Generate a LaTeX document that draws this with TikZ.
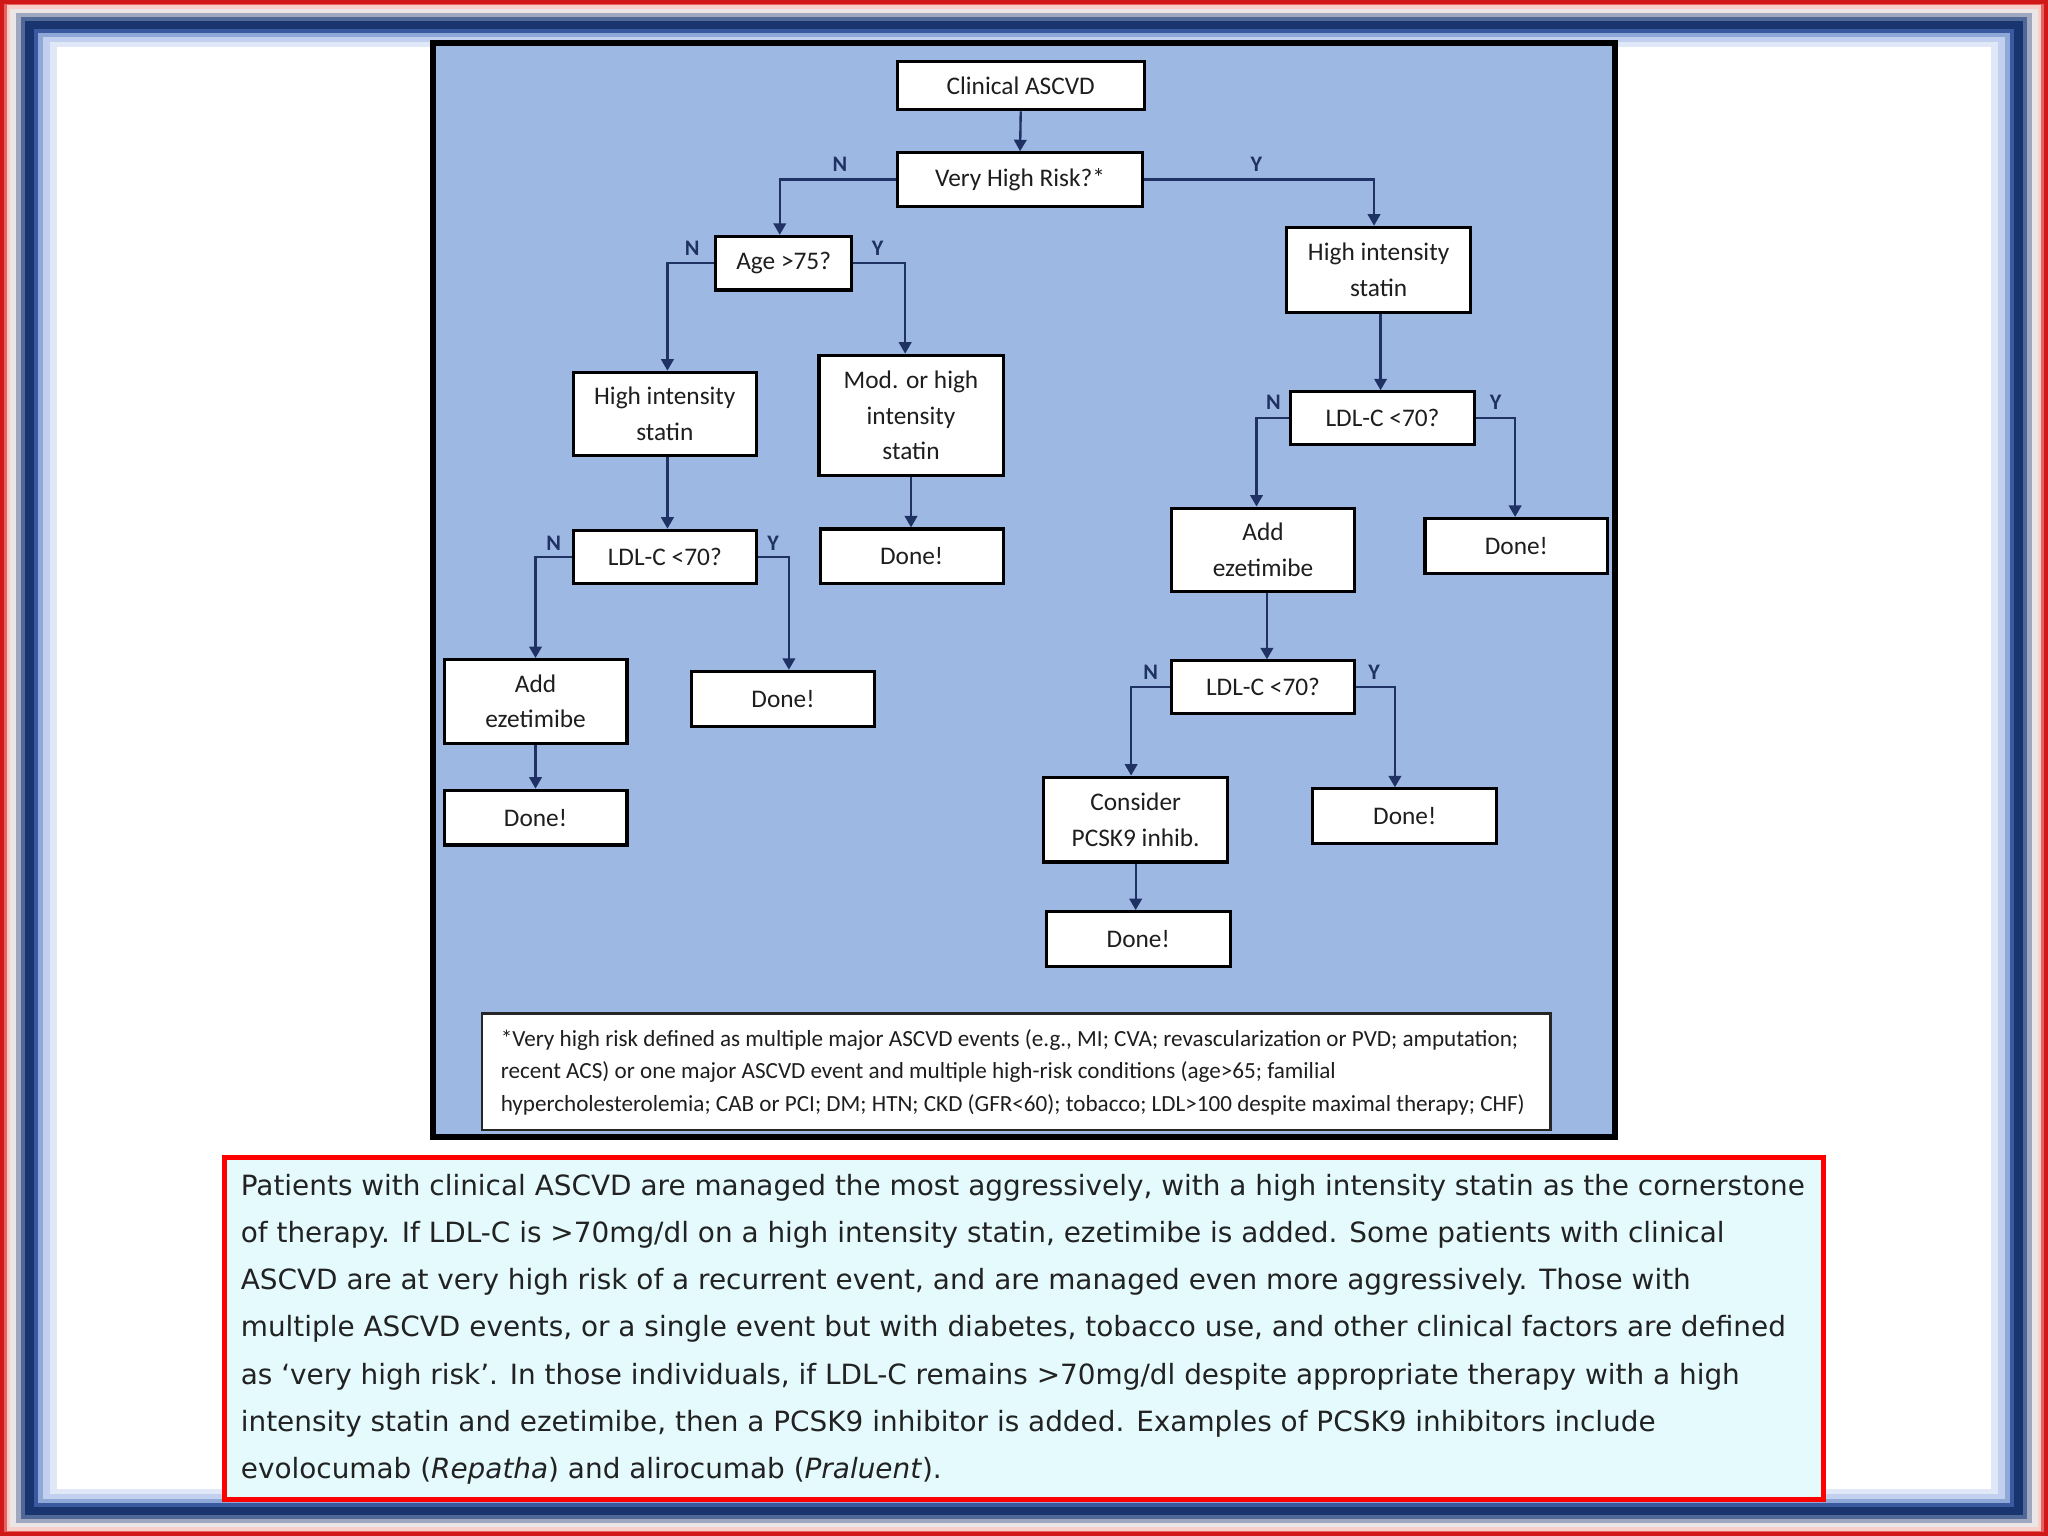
\documentclass[tikz,border=0pt]{standalone}
\usepackage{fontspec}
\setmainfont{Carlito}
\newfontfamily\parafont{DejaVu Sans}
\usetikzlibrary{arrows.meta}
\definecolor{frred}{HTML}{D01818}
\definecolor{frA}{HTML}{E86060}
\definecolor{frB}{HTML}{F6D0C8}
\definecolor{frC}{HTML}{EDE6E6}
\definecolor{frD}{HTML}{A0A8C0}
\definecolor{frE}{HTML}{506898}
\definecolor{frnavy}{HTML}{1A3470}
\definecolor{frF}{HTML}{3A5AA0}
\definecolor{frG}{HTML}{90A8D8}
\definecolor{frH}{HTML}{C0D0EE}
\definecolor{frI}{HTML}{E0E8F8}
\definecolor{panelblue}{HTML}{9DB9E3}
\definecolor{linec}{HTML}{1F3263}
\definecolor{boxtext}{HTML}{1E1E1E}
\definecolor{parafill}{HTML}{E4FAFD}
\definecolor{paratext}{HTML}{222222}
\tikzset{
  fbox/.style={draw=black, line width=1.2pt, fill=white, align=center, inner sep=0pt,
    minimum width=70pt, minimum height=20.5pt, text=boxtext,
    font=\fontsize{9.7}{13.7}\selectfont},
  conn/.style={draw=linec, line width=0.9pt, -{Triangle[length=4.4pt,width=4.8pt]}},
  yn/.style={font=\fontsize{8.5}{10}\selectfont\bfseries, text=linec, inner sep=0pt},
  footline/.style={anchor=base west, inner sep=0pt, text=boxtext, font=\fontsize{8.85}{12.5}\selectfont},
  paraline/.style={anchor=base west, inner sep=0pt, text=paratext, font=\parafont\fontsize{10.68}{18.1}\selectfont}
}
\begin{document}
\begin{tikzpicture}[x=0.5pt,y=-0.5pt]
\useasboundingbox (0,0) rectangle (1568,1176);
% frame
\fill[frred] (0,0) rectangle (1568,1176);
\fill[frA] (3,3) rectangle (1565,1173);
\fill[frB] (5,4) rectangle (1563,1172);
\fill[frC] (8,7) rectangle (1560,1169);
\fill[frD] (12,10) rectangle (1556,1166);
\fill[frE] (16,13) rectangle (1552,1163);
\fill[frnavy] (19,16) rectangle (1549,1160);
\fill[frF] (26,22) rectangle (1542,1154);
\fill[frG] (29,25) rectangle (1539,1151);
\fill[frH] (33,28) rectangle (1535,1148);
\fill[frI] (38,32) rectangle (1530,1144);
\fill[white] (44,36) rectangle (1524,1140);
% panel
\draw[line width=2.3pt, fill=panelblue] (331.3,33.3) rectangle (1236.7,870.7);
% boxes
\node[fbox, minimum width=94.5pt, minimum height=18.5pt] (cascvd) at (781.5,65.5) {Clinical ASCVD};
\node[fbox, minimum width=94pt] (vhr) at (781,137.5) {Very High Risk?*};
\node[fbox, minimum width=52pt] (age) at (600,201.5) {Age >75?};
\node[fbox, minimum height=32pt] (hisl) at (509,317) {High intensity\\statin};
\node[fbox, minimum width=70.5pt, minimum height=46pt] (mod) at (697.5,318) {Mod. or high\\intensity\\statin};
\node[fbox] (ldll) at (509,426.5) {LDL-C <70?};
\node[fbox, minimum height=21pt] (donem) at (698,426) {Done!};
\node[fbox, minimum height=32pt] (addl) at (410,537) {Add\\ezetimibe};
\node[fbox, minimum height=21pt] (donel2) at (599.5,535) {Done!};
\node[fbox, minimum height=21pt] (donel3) at (410,626) {Done!};
\node[fbox, minimum width=70.5pt, minimum height=32.5pt] (hisr) at (1055.5,206.5) {High intensity\\statin};
\node[fbox, minimum width=70.5pt, minimum height=20pt] (ldlr) at (1058.5,320) {LDL-C <70?};
\node[fbox, minimum height=32pt] (addr) at (967,421) {Add\\ezetimibe};
\node[fbox, minimum height=21pt] (doner) at (1161,418) {Done!};
\node[fbox, minimum height=20pt] (ldlr2) at (967,526) {LDL-C <70?};
\node[fbox, minimum width=70.5pt, minimum height=32.5pt] (pcsk) at (869.5,627.5) {Consider\\PCSK9 inhib.};
\node[fbox, minimum width=70.5pt, minimum height=21pt] (doner2) at (1075.5,625) {Done!};
\node[fbox, minimum width=70.5pt, minimum height=21pt] (doner3) at (871.5,719) {Done!};
% connectors
\draw[conn] (cascvd.south) -- (vhr.north);
\draw[conn] (vhr.west) -| ([xshift=-1.5pt]age.north);
\draw[conn] (vhr.east) -| ([xshift=-1.75pt]hisr.north);
\draw[conn] (age.west) -| ([xshift=1pt]hisl.north);
\draw[conn] (age.east) -| ([xshift=-2.25pt]mod.north);
\draw[conn] ([xshift=1pt]hisl.south) -- ([xshift=1pt]ldll.north);
\draw[conn] (mod.south) -- (mod.south |- donem.north);
\draw[conn] (ldll.west) -| (addl.north);
\draw[conn] (ldll.east) -| ([xshift=2.25pt]donel2.north);
\draw[conn] (addl.south) -- (donel3.north);
\draw[conn] ([xshift=0.75pt]hisr.south) -- ([xshift=0.75pt]hisr.south |- ldlr.north);
\draw[conn] (ldlr.west) -| ([xshift=-2.5pt]addr.north);
\draw[conn] (ldlr.east) -| ([xshift=-0.5pt]doner.north);
\draw[conn] ([xshift=1.5pt]addr.south) -- ([xshift=1.5pt]ldlr2.north);
\draw[conn] (ldlr2.west) -| ([xshift=-1.75pt]pcsk.north);
\draw[conn] (ldlr2.east) -| ([xshift=-3.75pt]doner2.north);
\draw[conn] (pcsk.south) -- (pcsk.south |- doner3.north);
% labels
\node[yn] (lvn) at (643,126) {N};
\node[yn] (lvy) at (962,126) {Y};
\node[yn] (lan) at (530,190) {N};
\node[yn] (lay) at (672,190) {Y};
\node[yn] (lln) at (424,416) {N};
\node[yn] (lly) at (592,416) {Y};
\node[yn] (lrn) at (975,308) {N};
\node[yn] (lry) at (1145,308) {Y};
\node[yn] (lr2n) at (881,515) {N};
\node[yn] (lr2y) at (1052,515) {Y};
% footnote
\node[draw=black!85, line width=0.9pt, fill=white, inner sep=0pt, minimum width=409pt, minimum height=44.5pt] (foot) at (778,820.5) {};
\node[footline] (f1) at (383,801) {*Very high risk defined as multiple major ASCVD events (e.g., MI; CVA; revascularization or PVD; amputation;};
\node[footline] (f2) at (383,826) {recent ACS) or one major ASCVD event and multiple high-risk conditions (age>65; familial};
\node[footline] (f3) at (383,851) {hypercholesterolemia; CAB or PCI; DM; HTN; CKD (GFR<60); tobacco; LDL>100 despite maximal therapy; CHF)};
% paragraph box
\draw[draw=red, line width=2pt, fill=parafill] (172,886) rectangle (1396,1148);
\node[paraline] (p1) at (184,915) {Patients with clinical ASCVD are managed the most aggressively, with a high intensity statin as the cornerstone};
\node[paraline] (p2) at (184,951) {of therapy. If LDL-C is >70mg/dl on a high intensity statin, ezetimibe is added. Some patients with clinical};
\node[paraline] (p3) at (184,987.5) {ASCVD are at very high risk of a recurrent event, and are managed even more aggressively. Those with};
\node[paraline] (p4) at (184,1023.5) {multiple ASCVD events, or a single event but with diabetes, tobacco use, and other clinical factors are defined};
\node[paraline] (p5) at (184,1060) {as ‘very high risk’. In those individuals, if LDL-C remains >70mg/dl despite appropriate therapy with a high};
\node[paraline] (p6) at (184,1096) {intensity statin and ezetimibe, then a PCSK9 inhibitor is added. Examples of PCSK9 inhibitors include};
\node[paraline] (p7) at (184,1132) {evolocumab (\textit{Repatha}) and alirocumab (\textit{Praluent}).};
\end{tikzpicture}
\end{document}
